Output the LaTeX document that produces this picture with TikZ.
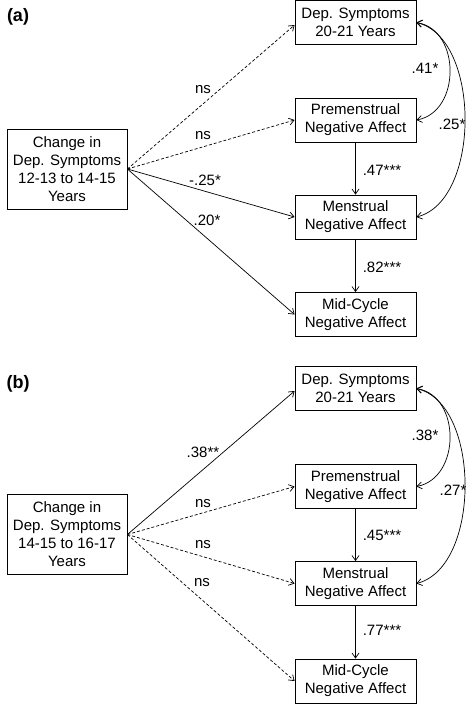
\documentclass[tikz,border=0pt]{standalone}
\usepackage{fontspec}
\setmainfont{Liberation Sans}
\usetikzlibrary{arrows.meta}
\begin{document}
\begin{tikzpicture}[x=1pt,y=-1pt,
  font=\fontsize{15}{18}\selectfont,
  box/.style={draw, line width=0.8pt, minimum width=121pt, minimum height=44pt, align=center, inner sep=1pt},
  lbox/.style={box, minimum width=120pt, minimum height=80pt},
  arr/.style={-{Straight Barb[length=5pt,width=7pt]}, line width=0.7pt},
  darr/.style={arr, dash pattern=on 3pt off 2pt},
  barr/.style={{Straight Barb[length=5pt,width=7pt]}-{Straight Barb[length=5pt,width=7pt]}, line width=0.7pt},
  lab/.style={inner sep=0pt},
  plab/.style={inner sep=0pt, font=\fontsize{18}{20}\selectfont\bfseries}]
\useasboundingbox (0,0) rectangle (474,716);

% ---------- panel (a)
\node[plab] (pa) at (18,17) {(a)};
\node[box] (a1) at (355.5,22.5) {Dep. Symptoms\\20-21 Years};
\node[box] (a2) at (355.5,120) {Premenstrual\\Negative Affect};
\node[box] (a3) at (355.5,217) {Menstrual\\Negative Affect};
\node[box] (a4) at (355.5,314.5) {Mid-Cycle\\Negative Affect};
\node[lbox] (aL) at (67,169) {Change in\\Dep. Symptoms\\12-13 to 14-15\\Years};

\draw[darr] (aL.east) -- ([yshift=-2.5pt]a1.west);
\draw[darr] (aL.east) -- (a2.west);
\draw[arr] (aL.east) -- (a3.west);
\draw[arr] (aL.east) -- (a4.west);
\draw[arr] (a2.south) -- (a3.north);
\draw[arr] (a3.south) -- (a4.north);
\draw[barr] (a1.east) .. controls (461,30) and (461,112) .. (a2.east);
\draw[barr] (a1.east) .. controls (481,38) and (481,201) .. (a3.east);

\node[lab] (la1) at (203,90) {ns};
\node[lab] (la2) at (203,136) {ns};
\node[lab] (la3) at (205,180) {-.25*};
\node[lab] (la4) at (207,220) {.20*};
\node[lab] (la5) at (382,170) {.47***};
\node[lab] (la6) at (382,267) {.82***};
\node[lab] (la7) at (425,68) {.41*};
\node[lab] (la8) at (452,124) {.25*};

% ---------- panel (b)
\node[plab] (pb) at (18,384) {(b)};
\node[box] (b1) at (355.5,388.5) {Dep. Symptoms\\20-21 Years};
\node[box] (b2) at (355.5,486.5) {Premenstrual\\Negative Affect};
\node[box] (b3) at (355.5,583.5) {Menstrual\\Negative Affect};
\node[box] (b4) at (355.5,681) {Mid-Cycle\\Negative Affect};
\node[lbox] (bL) at (67,534.5) {Change in\\Dep. Symptoms\\14-15 to 16-17\\Years};

\draw[arr] (bL.east) -- ([yshift=-2.5pt]b1.west);
\draw[darr] (bL.east) -- (b2.west);
\draw[darr] (bL.east) -- (b3.west);
\draw[darr] (bL.east) -- (b4.west);
\draw[arr] (b2.south) -- (b3.north);
\draw[arr] (b3.south) -- (b4.north);
\draw[barr] (b1.east) .. controls (461,396) and (461,478) .. (b2.east);
\draw[barr] (b1.east) .. controls (481,404) and (481,567) .. (b3.east);

\node[lab] (lb1) at (203,452) {.38**};
\node[lab] (lb2) at (203,504) {ns};
\node[lab] (lb3) at (203,545) {ns};
\node[lab] (lb4) at (202,583) {ns};
\node[lab] (lb5) at (382,535) {.45***};
\node[lab] (lb6) at (382,630) {.77***};
\node[lab] (lb7) at (425,435) {.38*};
\node[lab] (lb8) at (453,490) {.27*};
\end{tikzpicture}
\end{document}
